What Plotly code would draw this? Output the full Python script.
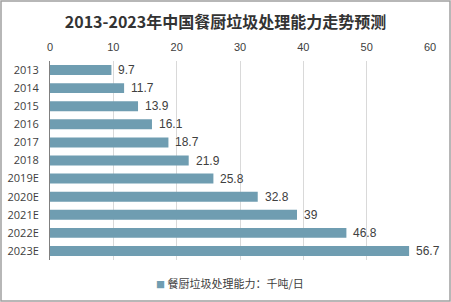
import plotly.graph_objects as go

categories = ["2013", "2014", "2015", "2016", "2017", "2018", "2019E", "2020E", "2021E", "2022E", "2023E"]
values = [9.7, 11.7, 13.9, 16.1, 18.7, 21.9, 25.8, 32.8, 39, 46.8, 56.7]
labels = ["9.7", "11.7", "13.9", "16.1", "18.7", "21.9", "25.8", "32.8", "39", "46.8", "56.7"]
series_name = "餐厨垃圾处理能力：千吨/日"
title = "2013-2023年中国餐厨垃圾处理能力走势预测"

W, H = 451, 302
ml, mr, mt, mb = 50, 21, 61, 42
bar_color = "#6f9db1"

fig = go.Figure()
fig.add_trace(go.Bar(
    y=categories, x=values, orientation="h",
    marker=dict(color=bar_color, line=dict(width=0)),
    width=0.55, showlegend=False, hoverinfo="x+y",
))
# category axis: annotations positioned by category index
for i, (v, t) in enumerate(zip(values, labels)):
    fig.add_annotation(
        x=v, y=i, xref="x", yref="y", text=t, showarrow=False,
        xanchor="left", yanchor="middle", xshift=5,
        font=dict(family="Liberation Sans, Arial", size=12, color="#404040"),
    )

fig.update_layout(
    width=W, height=H,
    margin=dict(l=ml, r=mr, t=mt, b=mb, autoexpand=False),
    paper_bgcolor="white", plot_bgcolor="white",
    title=dict(text="<b>" + title + "</b>", x=0.5, xanchor="center", y=1 - 22 / H, yanchor="middle",
               font=dict(family="Noto Sans CJK SC", size=16, color="#333333")),
    xaxis=dict(range=[0, 60], dtick=10, side="top", showgrid=True, gridcolor="#d9d9d9", gridwidth=1,
               zeroline=False, showline=False, ticks="", ticklabelstandoff=7, automargin=False,
               tickfont=dict(family="Liberation Sans, Arial", size=11, color="#404040")),
    yaxis=dict(type="category", categoryorder="array", categoryarray=categories,
               autorange="reversed", showline=True, linecolor="#808080", linewidth=1,
               ticks="", ticklabelstandoff=8, showgrid=False, automargin=False,
               tickfont=dict(family="Open Sans, Liberation Sans", size=11, color="#404040")),
    showlegend=False,
)

pw = W - ml - mr
ph = H - mt - mb
fig.add_annotation(
    xref="paper", yref="paper", x=(230 - ml) / pw, y=-(283 - (H - mb)) / ph,
    xanchor="center", yanchor="middle", showarrow=False,
    text="<span style='color:%s;font-size:9px'>■</span> %s" % (bar_color, series_name),
    font=dict(family="Noto Sans CJK SC", size=11, color="#404040"),
)
fig.add_shape(type="rect", xref="paper", yref="paper",
              x0=-(ml - 1) / pw, x1=1 + (mr - 1) / pw,
              y0=-(mb - 1) / ph, y1=1 + (mt - 1) / ph,
              line=dict(color="#a0a0a0", width=1.5), fillcolor="rgba(0,0,0,0)", layer="below")

fig.write_html("out.html")
